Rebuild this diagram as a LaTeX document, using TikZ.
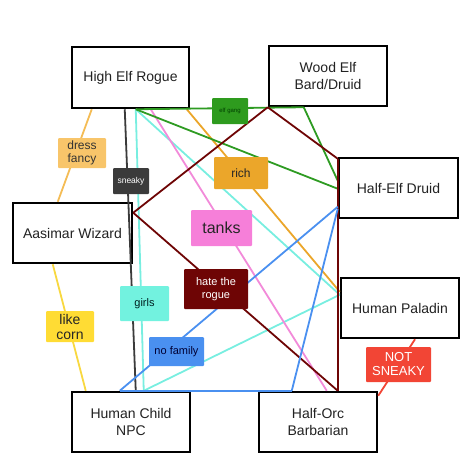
\documentclass[tikz,border=0pt]{standalone}
\usepackage{fontspec}
\setmainfont{Liberation Sans}
\usetikzlibrary{calc}
\definecolor{boxtext}{HTML}{222222}
\definecolor{cdress}{HTML}{F8C56A}
\definecolor{ldress}{HTML}{F4BC55}
\definecolor{csneaky}{HTML}{3B3B3B}
\definecolor{cgang}{HTML}{2E9B1E}
\definecolor{lgang}{HTML}{2E9B22}
\definecolor{crich}{HTML}{EBA62A}
\definecolor{ctanks}{HTML}{F67FD9}
\definecolor{ltanks}{HTML}{F28AD9}
\definecolor{chate}{HTML}{6E0505}
\definecolor{cgirls}{HTML}{72F2DF}
\definecolor{lgirls}{HTML}{78EEE0}
\definecolor{cfam}{HTML}{4A90F0}
\definecolor{ccorn}{HTML}{FFDC34}
\definecolor{lcorn}{HTML}{F8D840}
\definecolor{cnot}{HTML}{F24535}
\tikzset{
  charbox/.style={draw=black, line width=2.5pt, fill=white, text=boxtext, align=center,
    inner sep=0pt, font=\fontsize{14}{16.5}\selectfont},
  rel/.style={line width=1.8pt},
  tag/.style={rounded corners=1pt, inner sep=0pt, align=center},
}
\begin{document}
\begin{tikzpicture}[x=1pt,y=-1pt]
\useasboundingbox (0,0) rectangle (474,474);
% character boxes
\node[charbox, minimum width=117pt, minimum height=61pt] (her) at (130.5,77.5) {High Elf Rogue};
\node[charbox, minimum width=118pt, minimum height=60pt] (wood) at (328,76) {Wood Elf\\Bard/Druid};
\node[charbox, minimum width=119pt, minimum height=60pt] (hed) at (398.5,188) {Half-Elf Druid};
\node[charbox, minimum width=119pt, minimum height=60pt] (aas) at (72.5,233) {Aasimar Wizard};
\node[charbox, minimum width=118pt, minimum height=60pt] (pal) at (400,308) {Human Paladin};
\node[charbox, minimum width=118pt, minimum height=60pt] (child) at (131,422) {Human Child\\NPC};
\node[charbox, minimum width=118pt, minimum height=60pt] (orc) at (318,422) {Half-Orc\\Barbarian};
% attachment points
\coordinate (herA) at ([xshift=65pt]her.south west);
\coordinate (woodB) at (wood.south west);
\coordinate (woodG) at ([xshift=36pt]wood.south west);
\coordinate (aasR) at ([yshift=-11pt]aas.north east);
\coordinate (hedTL) at ([yshift=-2pt]hed.north west);
\coordinate (orcT) at ([xshift=80pt]orc.north west);
\coordinate (palC) at ([yshift=-18pt]pal.north west);
\coordinate (childB) at ([xshift=49pt]child.north west);
\coordinate (childC) at ([xshift=73pt]child.north west);
% lines
\draw[rel, ldress] ([xshift=21pt]her.south west) -- ([xshift=46pt]aas.north west);
\draw[rel, csneaky] ([xshift=54pt]her.south west) -- ([xshift=65pt]child.north west);
\draw[rel, lgirls] (herA) -- (childC);
\draw[rel, lgirls] (herA) -- (palC);
\draw[rel, lgirls] (palC) -- (childC);
\draw[rel, ltanks] ([xshift=80pt]her.south west) -- ([xshift=69pt]orc.north west);
\draw[rel, crich] ([xshift=116pt]her.south west) -- ([yshift=-15pt]pal.north west);
\draw[rel, lgang] (herA) -- (woodG);
\draw[rel, lgang] (woodG) -- ([yshift=-24pt]hed.north west);
\draw[rel, lgang] (herA) -- ([yshift=-32pt]hed.north west);
\draw[rel, chate] (woodB) -- (aasR);
\draw[rel, chate] (woodB) -- (hedTL);
\draw[rel, chate] (aasR) -- (orcT);
\draw[rel, chate] (hedTL) -- (orcT);
\draw[rel, cfam] (childB) -- ([yshift=-50pt]hed.north west);
\draw[rel, cfam] ([xshift=34pt]orc.north west) -- ([yshift=-52pt]hed.north west);
\draw[rel, cfam] (childB) -- ([xshift=34pt]orc.north west);
\draw[rel, lcorn] ([xshift=41pt]aas.south west) -- ([xshift=15pt]child.north west);
\draw[rel, cnot] ([xshift=15pt]pal.south) -- ([yshift=-5pt]orc.north east);
% labels
\node[tag, fill=cdress, text=black!80, minimum width=48pt, minimum height=30pt, font=\fontsize{12}{13}\selectfont] (ldf) at (82,153) {dress\\fancy};
\node[tag, fill=csneaky, text=white, minimum width=36pt, minimum height=26pt, font=\fontsize{8.5}{9}\selectfont] (lsn) at (131,181) {sneaky};
\node[tag, fill=cgang, text=black!75!green, minimum width=36pt, minimum height=26pt, font=\fontsize{6}{7}\selectfont] (leg) at (230,111) {elf gang};
\node[tag, fill=crich, text=black!85, minimum width=54pt, minimum height=32pt, font=\fontsize{12}{13}\selectfont] (lri) at (241,173) {rich};
\node[tag, fill=ctanks, text=black!85, minimum width=61pt, minimum height=36pt, font=\fontsize{16}{17}\selectfont] (lta) at (221.5,228) {tanks};
\node[tag, fill=chate, text=white, minimum width=64pt, minimum height=40pt, font=\fontsize{11}{12.5}\selectfont] (lha) at (216,289) {hate the\\rogue};
\node[tag, fill=cgirls, text=black!75!teal, minimum width=49pt, minimum height=35pt, font=\fontsize{11}{12}\selectfont] (lgi) at (144.5,303.5) {girls};
\node[tag, fill=cfam, text=black!80!blue, minimum width=55pt, minimum height=29pt, font=\fontsize{11}{12}\selectfont] (lnf) at (176.5,351.5) {no family};
\node[tag, fill=ccorn, text=black!85, minimum width=48pt, minimum height=31pt, font=\fontsize{14}{15}\selectfont] (llc) at (70,326.5) {like\\corn};
\node[tag, fill=cnot, text=white, minimum width=65pt, minimum height=35pt, font=\fontsize{13}{14}\selectfont] (lns) at (398.5,364.5) {NOT\\SNEAKY};
\end{tikzpicture}
\end{document}
